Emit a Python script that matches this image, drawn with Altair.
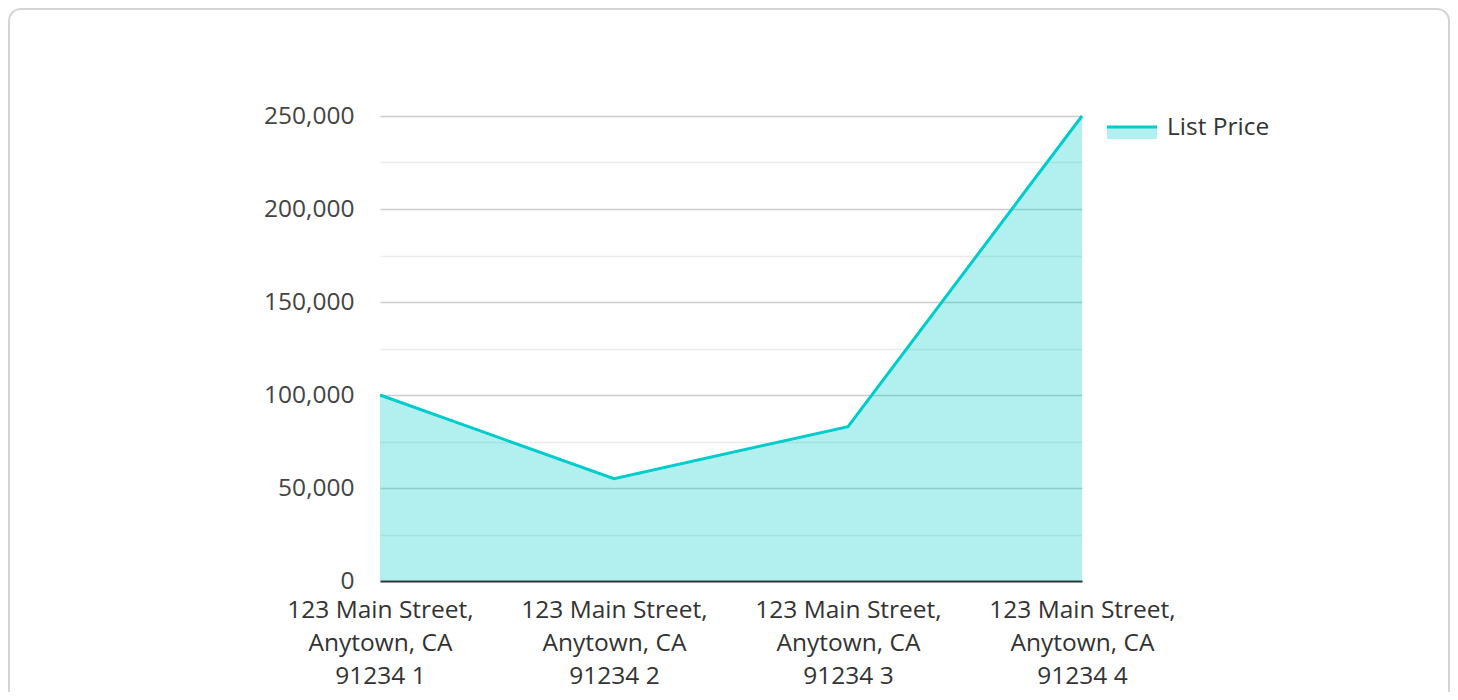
import altair as alt
import pandas as pd

streets = ["123 Main Street,", "123 Main Street,", "123 Main Street,", "123 Main Street,"]
cities = ["Anytown, CA", "Anytown, CA", "Anytown, CA", "Anytown, CA"]
zips = ["91234 1", "91234 2", "91234 3", "91234 4"]
list_price = [100000, 55000, 83000, 250000]
y_ticks = [0, 25000, 50000, 75000, 100000, 125000, 150000, 175000, 200000, 225000, 250000]
series_name = "List Price"

categories = [f"{s}\n{c}\n{z}" for s, c, z in zip(streets, cities, zips)]
df = pd.DataFrame({"address": categories, "price": list_price})

FONT = "Open Sans"
LINE = "#00CCCC"

x_enc = alt.X(
    "address:N",
    sort=categories,
    scale=alt.Scale(type="point", padding=0),
    axis=alt.Axis(
        title=None, labelAngle=0, ticks=False, labelExpr="split(datum.label, '\\n')",
        labelFontSize=24.5, labelLineHeight=33, labelColor="#333333", labelPadding=17,
        labelLimit=400, domainColor="#333333", domainWidth=2, grid=False, labelFont=FONT,
    ),
)
y_enc = alt.Y(
    "price:Q",
    scale=alt.Scale(domain=[0, 250000], nice=False),
    axis=alt.Axis(
        title=None, values=y_ticks, format=",.0f", ticks=False, domain=False,
        labelExpr="datum.value % 50000 === 0 ? datum.label : ''",
        labelFontSize=24.5, labelColor="#444444", labelPadding=26, labelFont=FONT,
        grid=True,
        gridColor={"condition": {"test": "datum.value % 50000 === 0", "value": "#cccccc"}, "value": "#ebebeb"},
        gridWidth=1.5,
    ),
)

base = alt.Chart(df).encode(x=x_enc, y=y_enc)
area = base.mark_area(color=LINE, opacity=0.3)
line = base.mark_line(color=LINE, strokeWidth=3)

one = pd.DataFrame({"k": [0]})
border = alt.Chart(one).mark_rect(
    fill=None, stroke="#d4d4d4", strokeWidth=2, cornerRadius=12
).encode(x=alt.value(-371), x2=alt.value(1069), y=alt.value(-107), y2=alt.value(620))

leg_fill = alt.Chart(one).mark_rect(color=LINE, opacity=0.3).encode(
    x=alt.value(727), x2=alt.value(777), y=alt.value(12), y2=alt.value(23)
)
leg_line = alt.Chart(one).mark_rule(color=LINE, strokeWidth=3).encode(
    x=alt.value(727), x2=alt.value(777), y=alt.value(11)
)
leg_text = alt.Chart(pd.DataFrame({"t": [series_name]})).mark_text(
    align="left", baseline="middle", fontSize=24.5, font=FONT, color="#333333"
).encode(x=alt.value(787), y=alt.value(12), text="t:N")

chart = alt.layer(border, area, line, leg_fill, leg_line, leg_text).properties(
    width=702, height=465,
    autosize=alt.AutoSizeParams(type="none"),
    padding={"left": 372, "top": 108, "right": 368, "bottom": 111},
).configure(font=FONT).configure_view(strokeWidth=0)

chart.save("out.html", embed_options={"renderer": "svg", "actions": False})
